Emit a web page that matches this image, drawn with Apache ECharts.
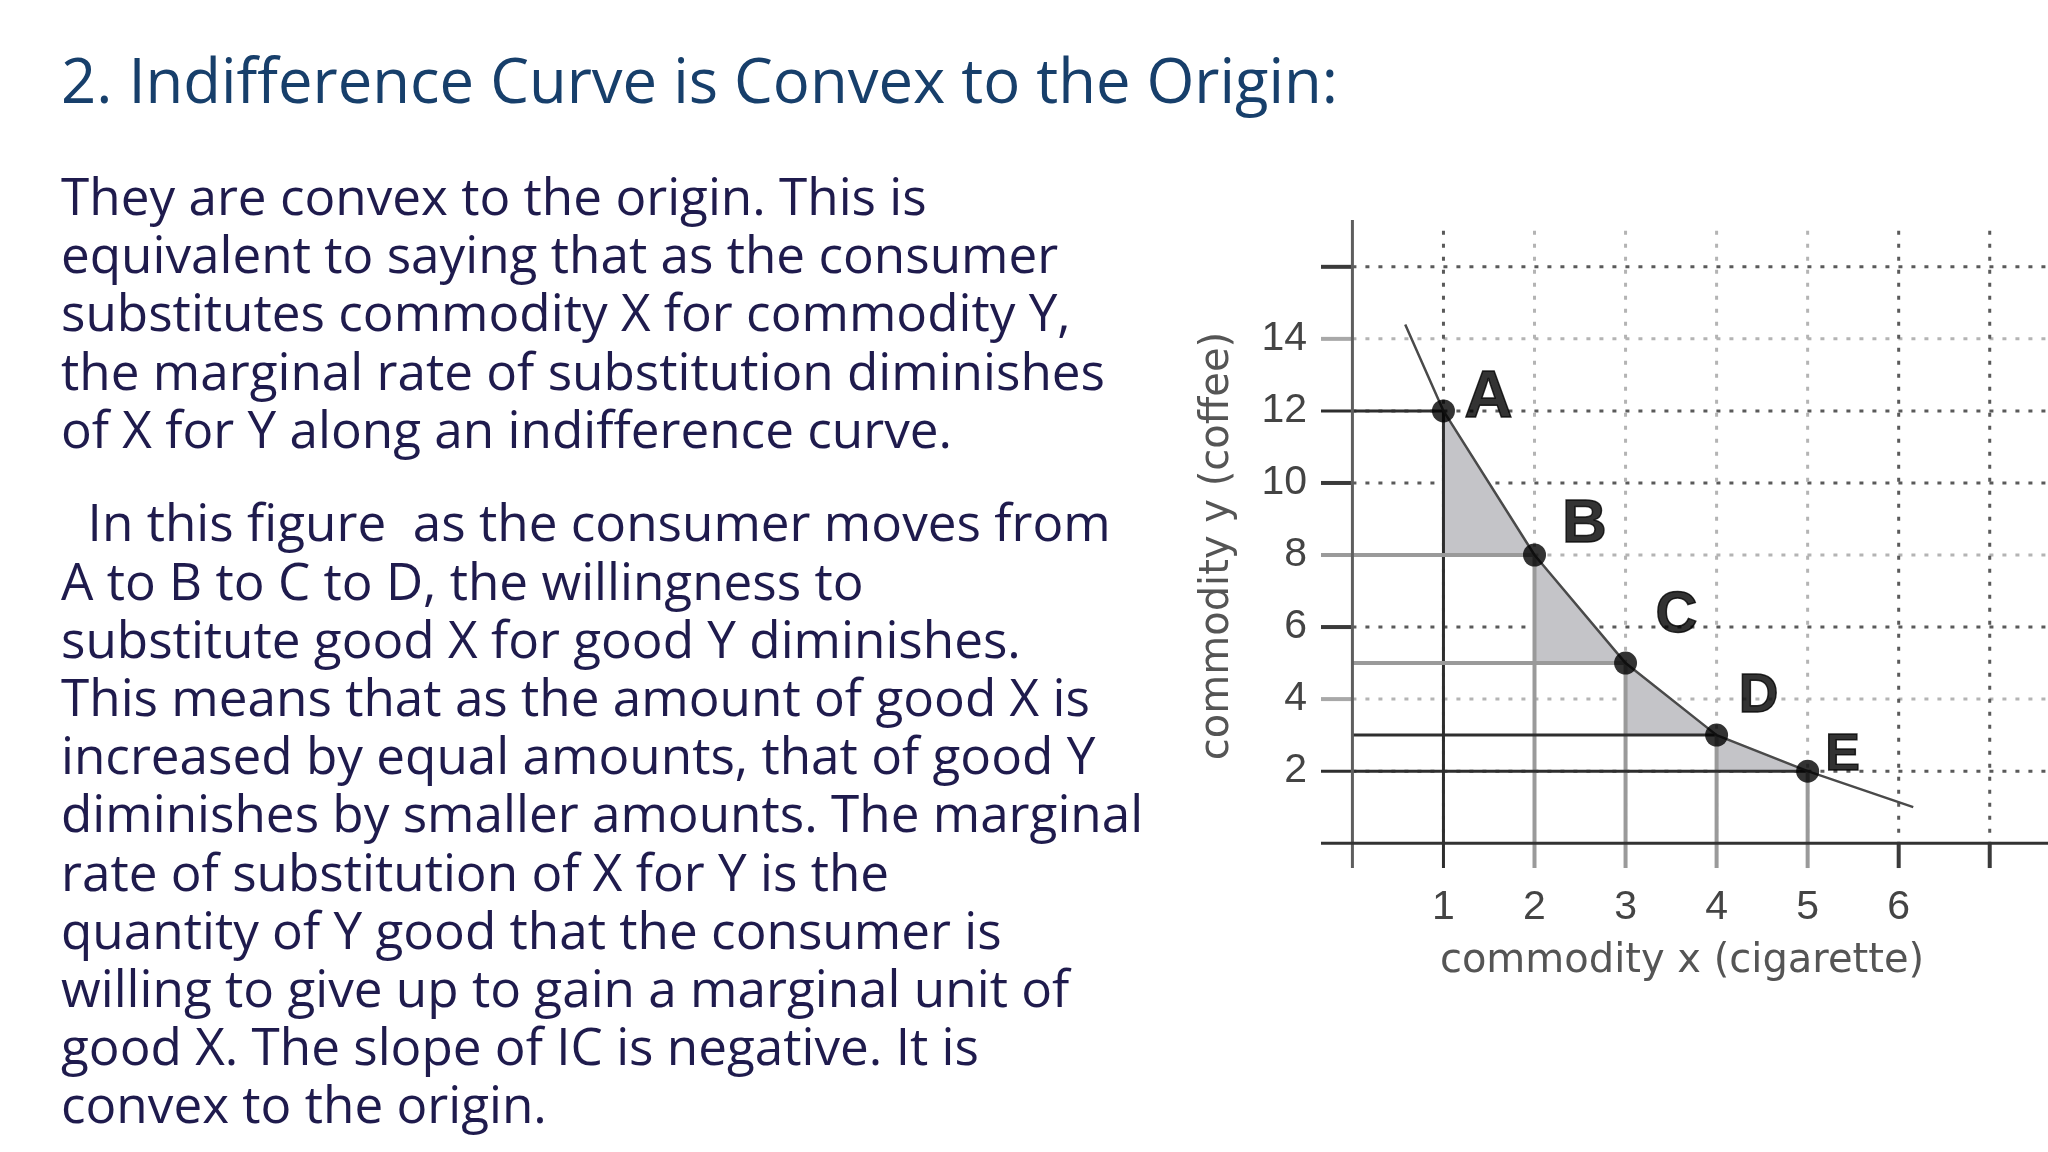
<!DOCTYPE html>
<html>
<head>
<meta charset="utf-8">
<script src="https://cdn.jsdelivr.net/npm/echarts@6/dist/echarts.min.js"></script>
<style>
html,body{margin:0;padding:0;background:#ffffff;}
#main{width:2048px;height:1152px;}
</style>
</head>
<body>
<div id="main"></div>
<script>
// ---------------- data ----------------
const titleText = "2. Indifference Curve is Convex to the Origin:";
const paragraph1 = [
  "They are convex to the origin. This is",
  "equivalent to saying that as the consumer",
  "substitutes commodity X for commodity Y,",
  "the marginal rate of substitution diminishes",
  "of X for Y along an indifference curve."
];
const paragraph2 = [
  "  In this figure  as the consumer moves from",
  "A to B to C to D, the willingness to",
  "substitute good X for good Y diminishes.",
  "This means that as the amount of good X is",
  "increased by equal amounts, that of good Y",
  "diminishes by smaller amounts. The marginal",
  "rate of substitution of X for Y is the",
  "quantity of Y good that the consumer is",
  "willing to give up to gain a marginal unit of",
  "good X. The slope of IC is negative. It is",
  "convex to the origin."
];
const pointNames = ["A", "B", "C", "D", "E"];
const pointX = [1, 2, 3, 4, 5];
const pointY = [12, 8, 5, 3, 2];
const curveX = [0.58, 1, 2, 3, 4, 5, 6.16];
const curveY = [14.4, 12, 8, 5, 3, 2, 1.0];
const xTickLabels = [1, 2, 3, 4, 5, 6];
const yTickLabels = [2, 4, 6, 8, 10, 12, 14];
const yTickMarks = [2, 4, 6, 8, 10, 12, 14, 16];
const xGridLines = [1, 2, 3, 4, 5, 6, 7];
const yGridLines = [2, 4, 6, 8, 10, 12, 14, 16];
const xAxisName = "commodity x (cigarette)";
const yAxisName = "commodity y (coffee)";

// ---------------- layout / style config ----------------
const X_MIN = -0.4, X_MAX = 7.64, Y_MIN = -0.8, Y_MAX = 17.3;
const TICK_START_X = -0.345;   // left end of y tick marks
const BELOW_AXIS_Y = -0.69;    // lower end of vertical drop lines / x ticks
const GRID_TOP_Y = 17.0;       // top of vertical dotted lines
const AXIS_TOP_Y = 17.3;
const lightYGrid = [4, 8, 14];
const lightXGrid = [2, 3, 4, 5];
const hGuideDark = [true, false, false, true, true];
const vGuideDark = [true, false, false, false, false];
const labelStyle = [
  {size: 67, dx: 45, dy: -12},
  {size: 62, dx: 50, dy: -30},
  {size: 58, dx: 51, dy: -47},
  {size: 55, dx: 42, dy: -38},
  {size: 52, dx: 35, dy: -15}
];
const segStyles = {
  gridDark:  {color: '#5a5a5a', width: 3, dash: [4, 9]},
  gridLight: {color: '#b4b4b4', width: 3, dash: [4, 9]},
  yAxis:     {color: '#5e5e5e', width: 3},
  xAxis:     {color: '#333333', width: 3},
  tickDark:  {color: '#3a3a3a', width: 4},
  tickLight: {color: '#a8a8a8', width: 4},
  guideDark: {color: '#2e2e2e', width: 3},
  guideLight:{color: '#9a9a9a', width: 4}
};
const styleKeys = Object.keys(segStyles);

// ---------------- build segments ----------------
const gridSegs = [];
yGridLines.forEach(v => gridSegs.push([0, v, X_MAX, v, styleKeys.indexOf(lightYGrid.includes(v) ? 'gridLight' : 'gridDark')]));
xGridLines.forEach(v => gridSegs.push([v, GRID_TOP_Y, v, 0, styleKeys.indexOf(lightXGrid.includes(v) ? 'gridLight' : 'gridDark')]));

const guideSegs = [];
pointX.forEach((x, i) => {
  const y = pointY[i];
  const hStart = yTickMarks.includes(y) ? TICK_START_X : 0;
  guideSegs.push([hStart, y, x, y, styleKeys.indexOf(hGuideDark[i] ? 'guideDark' : 'guideLight')]);
  guideSegs.push([x, y, x, BELOW_AXIS_Y, styleKeys.indexOf(vGuideDark[i] ? 'guideDark' : 'guideLight')]);
});

const axisSegs = [];
yTickMarks.forEach(v => {
  if (!pointY.includes(v)) axisSegs.push([TICK_START_X, v, 0, v, styleKeys.indexOf(lightYGrid.includes(v) ? 'tickLight' : 'tickDark')]);
});
xGridLines.forEach(v => {
  if (!pointX.includes(v)) axisSegs.push([v, 0, v, BELOW_AXIS_Y, styleKeys.indexOf('tickDark')]);
});
axisSegs.push([0, BELOW_AXIS_Y, 0, AXIS_TOP_Y, styleKeys.indexOf('yAxis')]);
axisSegs.push([TICK_START_X, 0, X_MAX, 0, styleKeys.indexOf('xAxis')]);

const triangles = [];
for (let i = 0; i < pointX.length - 1; i++) {
  triangles.push([pointX[i], pointY[i], pointX[i + 1], pointY[i + 1]]);
}

function segRender(params, api) {
  const p1 = api.coord([api.value(0), api.value(1)]);
  const p2 = api.coord([api.value(2), api.value(3)]);
  const st = segStyles[styleKeys[api.value(4)]];
  return {
    type: 'line',
    shape: {x1: p1[0], y1: p1[1], x2: p2[0], y2: p2[1]},
    style: {stroke: st.color, lineWidth: st.width, lineDash: st.dash || null, lineCap: 'butt'},
    silent: true
  };
}
function triRender(params, api) {
  const a = api.coord([api.value(0), api.value(1)]);
  const b = api.coord([api.value(0), api.value(3)]);
  const c = api.coord([api.value(2), api.value(3)]);
  return {type: 'polygon', shape: {points: [a, b, c]}, style: {fill: '#c4c4c8'}, silent: true};
}

// ---------------- text layout ----------------
const TEXT_FONT = '"Open Sans", "Noto Sans", sans-serif';
const ctx = document.createElement('canvas').getContext('2d');
function fontStr(size, family) { return size + 'px ' + family; }
function measureW(text, size, family) { ctx.font = fontStr(size, family); ctx.textBaseline = 'alphabetic'; return ctx.measureText(text).width; }
function baselineOffset(size, family) {
  ctx.font = fontStr(size, family);
  ctx.textBaseline = 'alphabetic';
  const a = ctx.measureText('H').actualBoundingBoxAscent;
  ctx.textBaseline = 'middle';
  const m = ctx.measureText('H').actualBoundingBoxAscent;
  ctx.textBaseline = 'alphabetic';
  return a - m;
}
const TITLE_SIZE = 63, BODY_SIZE = 52;
const TITLE_LEFT = 61, TITLE_BASE = 103, TITLE_WIDTH = 1277;
const BODY_LEFT = 61, BODY_REF_WIDTH = 1044;
const P1_BASE = 215, P2_BASE = 541.3, PITCH = 58.2;
const titleScale = TITLE_WIDTH / measureW(titleText, TITLE_SIZE, TEXT_FONT);
const bodyScale = BODY_REF_WIDTH / measureW(paragraph1[3], BODY_SIZE, TEXT_FONT);
const tOff = baselineOffset(TITLE_SIZE, TEXT_FONT);
const bOff = baselineOffset(BODY_SIZE, TEXT_FONT);

const graphics = [];
graphics.push({
  type: 'text', x: TITLE_LEFT, y: TITLE_BASE - tOff, scaleX: titleScale, silent: true,
  style: {text: titleText, fontSize: TITLE_SIZE, fontFamily: TEXT_FONT, fill: '#173f6b', align: 'left', verticalAlign: 'middle'}
});
paragraph1.forEach((t, i) => graphics.push({
  type: 'text', x: BODY_LEFT, y: P1_BASE + i * PITCH - bOff, scaleX: bodyScale, silent: true,
  style: {text: t, fontSize: BODY_SIZE, fontFamily: TEXT_FONT, fill: '#1f1b4d', align: 'left', verticalAlign: 'middle'}
}));
paragraph2.forEach((t, i) => graphics.push({
  type: 'text', x: BODY_LEFT, y: P2_BASE + i * PITCH - bOff, scaleX: bodyScale, silent: true,
  style: {text: t, fontSize: BODY_SIZE, fontFamily: TEXT_FONT, fill: '#1f1b4d', align: 'left', verticalAlign: 'middle'}
}));

// ---------------- chart ----------------
const chart = echarts.init(document.getElementById('main'), null, {renderer: 'canvas'});
const option = {
  backgroundColor: '#ffffff',
  animation: false,
  graphic: {elements: graphics},
  grid: {left: 1316, top: 220, width: 732, height: 652, containLabel: false},
  xAxis: {
    type: 'value', min: X_MIN, max: X_MAX,
    axisLine: {show: false}, axisTick: {show: false}, splitLine: {show: false},
    axisLabel: {customValues: xTickLabels, fontSize: 41, fontFamily: 'Liberation Sans', color: '#444444', margin: 15},
    name: xAxisName, nameLocation: 'middle', nameGap: 70,
    nameTextStyle: {fontSize: 40, fontFamily: 'DejaVu Sans', color: '#555555'}
  },
  yAxis: {
    type: 'value', min: Y_MIN, max: Y_MAX,
    axisLine: {show: false}, axisTick: {show: false}, splitLine: {show: false},
    axisLabel: {customValues: yTickLabels, fontSize: 41, fontFamily: 'Liberation Sans', color: '#444444', margin: 9},
    name: yAxisName, nameLocation: 'middle', nameGap: 78,
    nameTextStyle: {fontSize: 40, fontFamily: 'DejaVu Sans', color: '#555555'}
  },
  series: [
    {type: 'custom', name: 'grid', renderItem: segRender, data: gridSegs, z: 1, silent: true},
    {type: 'custom', name: 'shade', renderItem: triRender, data: triangles, z: 2, silent: true},
    {type: 'custom', name: 'guides', renderItem: segRender, data: guideSegs, z: 3, silent: true},
    {type: 'custom', name: 'axes', renderItem: segRender, data: axisSegs, z: 4, silent: true},
    {
      type: 'line', name: 'IC', data: curveX.map((x, i) => [x, curveY[i]]),
      symbol: 'none', lineStyle: {color: '#4a4a4a', width: 2.5}, z: 5, silent: true
    },
    {
      type: 'scatter', name: 'points', symbol: 'circle', symbolSize: 23, z: 6, silent: true,
      itemStyle: {color: '#000000'},
      data: pointX.map((x, i) => ({
        value: [x, pointY[i]], name: pointNames[i],
        label: {
          show: true, formatter: pointNames[i], position: 'inside',
          offset: [labelStyle[i].dx, labelStyle[i].dy],
          fontSize: labelStyle[i].size, fontWeight: 'bold', fontFamily: 'Liberation Sans', color: '#000000',
          textBorderColor: '#000000', textBorderWidth: 1.5
        }
      }))
    }
  ]
};
chart.setOption(option);
</script>
</body>
</html>
